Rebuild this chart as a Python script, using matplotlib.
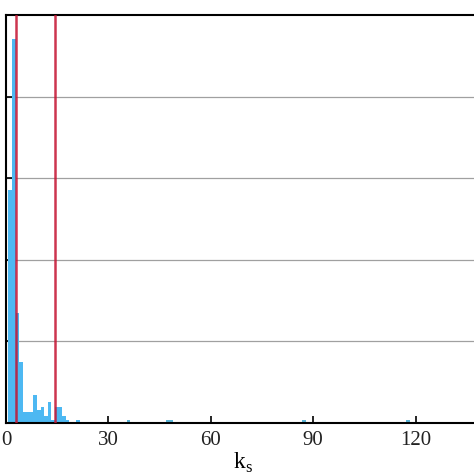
import matplotlib
matplotlib.use("Agg")
import matplotlib.pyplot as plt

# histogram bins of k_s (bin index, normalized height)
bin_start = 0.7
bin_width = 1.05
bin_idx = [0, 1, 2, 3, 4, 5, 6, 7, 8, 9, 10, 11, 12, 13, 14, 15, 16, 19, 33, 44, 45, 82, 111]
heights = [2.85, 4.71, 1.35, 0.75, 0.14, 0.14, 0.14, 0.34, 0.16, 0.19, 0.09, 0.26,
           0.04, 0.19, 0.19, 0.09, 0.04, 0.04, 0.04, 0.04, 0.04, 0.04, 0.04]
vlines = [3.0, 14.3]
xticks = [0, 30, 60, 90, 120]

plt.rcParams["font.family"] = ["Liberation Serif", "DejaVu Serif"]
plt.rcParams["mathtext.fontset"] = "custom"
plt.rcParams["mathtext.rm"] = "Liberation Serif"
fig = plt.figure(figsize=(4.74, 4.74), dpi=100)
ax = fig.add_axes([6 / 474, 51 / 474, 1.0, 408 / 474])

lefts = [bin_start + i * bin_width for i in bin_idx]
colors = ["#4db8f2" if i < 20 else "#5ab4d6" for i in bin_idx]
ax.bar(lefts, heights, width=bin_width, align="edge", color=colors, linewidth=0, zorder=2)
for v in vlines:
    ax.axvline(v, color="#c41230", lw=1.8, alpha=0.85, zorder=3)

ax.set_xlim(0, 468 / 3.37)
ax.set_ylim(0, 5)
ax.set_yticks([1, 2, 3, 4])
ax.set_yticklabels([])
ax.grid(axis="y", color="#a0a0a0", lw=0.9, zorder=0)
ax.set_xticks(xticks)
ax.tick_params(direction="in", length=5, width=1.2, labelsize=15, labelcolor="#222222")
ax.tick_params(axis="x", pad=6)
for s in ["left", "bottom", "top"]:
    ax.spines[s].set_linewidth(1.5)
ax.spines["right"].set_visible(False)
ax.set_xlabel("k$_\\mathrm{s}$", fontsize=17, labelpad=0)

fig.savefig("out.png", dpi=100)
